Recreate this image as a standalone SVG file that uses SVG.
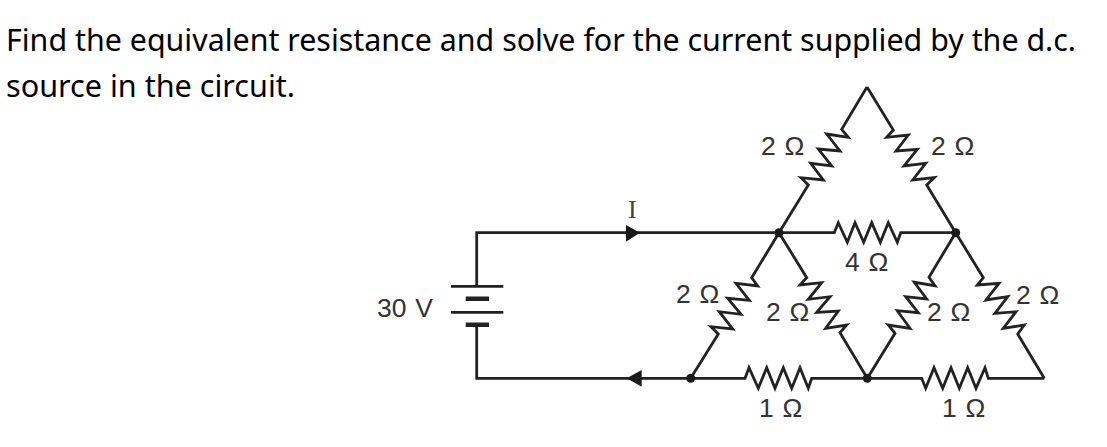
<svg xmlns="http://www.w3.org/2000/svg" width="1107" height="447" viewBox="0 0 1107 447">
<style>
.h{font-family:"Noto Sans","Open Sans",sans-serif;font-size:31px;fill:#000}
.l{font-family:"Liberation Sans",Arial,sans-serif;font-size:26.5px;fill:#333;word-spacing:1.5px}
.s{font-family:"Liberation Serif",serif;font-size:26px;fill:#444}
.w{fill:none;stroke:#222;stroke-width:2.8;stroke-linejoin:miter;stroke-linecap:butt}
.d{fill:#1a1a1a}
</style>
<rect width="1107" height="447" fill="#fff"/>
<g id="heading">
<text class="h" x="6" y="51" textLength="1070" lengthAdjust="spacingAndGlyphs">Find the equivalent resistance and solve for the current supplied by the d.c.</text>
<text class="h" x="6" y="97" textLength="289" lengthAdjust="spacingAndGlyphs">source in the circuit.</text>
</g>
<g id="connectors">
<path class="w" d="M451 286.3H503.3M451 312.3H503.3"/>
<path d="M465.7 298.7H489M465.7 324.7H489" fill="none" stroke="#222" stroke-width="4.5"/>
<path class="w" d="M476.7 286.3V232.7H779"/>
<path class="w" d="M476.7 324.7V378.3H690.7"/>
<path class="d" d="M640 232.7L626 225V241.7Z"/>
<path class="d" d="M626.7 378.3L641.7 370V386.7Z"/>
<path class="w" d="M867 87L841.7 129.3L848.3 137.3L826.7 134L840 151L818.3 149L831.7 166L810.7 163.3L823.3 180L801 177.7L808.3 185L779 232.7"/>
<path class="w" d="M867 87L893.3 130L886.7 137.3L908.3 135L896 151L917.3 149.3L904 166L925.7 163.3L912.7 180L934.3 177.7L926.7 185L955.7 232.7"/>
<path class="w" d="M779 232.7H834.3L838.3 222.7L847.3 242.3L855 222.7L863.7 242.3L871.7 222.7L880.3 242.3L888.3 222.7L897.3 242.3L900.7 232.7H955.7"/>
<path class="w" d="M779 232.7L751.7 277.7L757.7 286L736 283.3L749.3 300.3L727.7 298.3L741 314.3L719.3 311.7L732.7 329L711 326.7L718.3 334L690.7 378.3"/>
<path class="w" d="M779 232.7L806.7 277.7L800 285L821.7 282.7L808.3 299.3L830 296.7L816.7 312.3L838.3 311L825.7 328.3L846.7 325L840 332.7L867.3 378.3"/>
<path class="w" d="M690.7 378.3H745L749 367.7L758.3 388.3L766.7 367.7L775 388.3L783.3 367.7L791.7 388.3L800 367.7L808.3 388.3L811.7 378.3H867.3"/>
<path class="w" d="M955.7 232.7L929 277.3L935 285.7L914.3 282.3L926.7 299L905.7 296.7L918.3 312.7L897.3 310.7L910 328.3L888.3 325L895 333.3L867.3 378.3"/>
<path class="w" d="M955.7 232.7L983.3 277.7L977.3 285L999 283.3L986 300L1007.7 296.7L995 313.3L1016 311.7L1003.3 328.3L1024.3 325L1017.7 334L1044.3 378.3"/>
<path class="w" d="M867.3 378.3H921.7L925.7 388.3L934 367.7L942.7 388.3L951 367.7L959.3 388.3L967.7 367.7L976 388.3L985 367.7L988.3 378.3H1044.3"/>
</g>
<g id="node-a"><circle class="d" cx="779" cy="232.7" r="4.5"/></g>
<g id="node-b"><circle class="d" cx="955.7" cy="232.7" r="4.5"/></g>
<g id="node-c"><circle class="d" cx="690.7" cy="378.3" r="4.5"/></g>
<g id="node-d"><circle class="d" cx="867.3" cy="378.3" r="4.5"/></g>
<g id="labels">
<text class="s" x="628" y="218">I</text>
<text class="l" x="377" y="317">30 V</text>
<text class="l" x="761" y="155">2 Ω</text>
<text class="l" x="931" y="155">2 Ω</text>
<text class="l" x="845" y="271">4 Ω</text>
<text class="l" x="676" y="303">2 Ω</text>
<text class="l" x="766" y="321">2 Ω</text>
<text class="l" x="927" y="321">2 Ω</text>
<text class="l" x="1016" y="304">2 Ω</text>
<text class="l" x="759" y="417">1 Ω</text>
<text class="l" x="942" y="417">1 Ω</text>
</g>
</svg>
